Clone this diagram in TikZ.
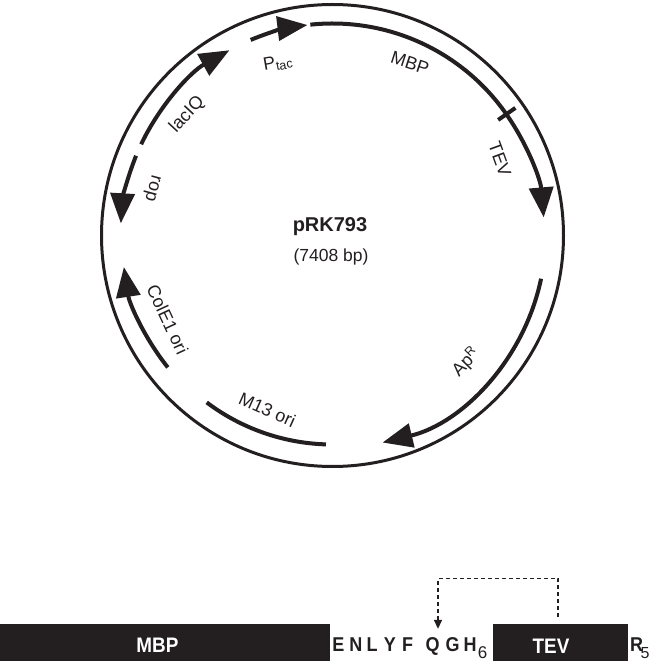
\documentclass[tikz,border=0pt]{standalone}
\usepackage{fontspec}
\setmainfont{Liberation Sans}
\newfontfamily\condfont[FakeStretch=0.9]{Liberation Sans}
\usetikzlibrary{arrows.meta}

\definecolor{ink}{HTML}{231F20}

\tikzset{
	backbone/.style={ink,line width=3pt},
	gene/.style={ink,line width=4pt},
	genetip/.style={gene,-{Triangle[length=30pt,width=24pt]}},
	maplabel/.style={ink,inner sep=0pt,font=\fontsize{18}{20}\selectfont},
	bar/.style={fill=ink,draw=none,minimum height=36.5pt,inner sep=0pt},
	bartext/.style={white,anchor=base,inner sep=0pt,font=\condfont\bfseries\fontsize{21}{24}\selectfont},
	aa/.style={ink,anchor=base,inner sep=0pt,font=\condfont\bfseries\fontsize{20}{24}\selectfont},
	cleave/.style={ink,line width=1.5pt,dash pattern=on 4pt off 3pt,-{Triangle[length=9pt,width=8pt]}}
}

\begin{document}
\begin{tikzpicture}[x=1pt,y=1pt]
	\useasboundingbox (-332.5,-425.5) rectangle (317.5,235.5);

	% plasmid
	\draw[backbone] (0,0) circle[radius=231];

	\begin{scope}
		\draw[genetip] (112.7:212) arc[start angle=112.7,end angle=96.8,radius=212];
		\draw[genetip] (96:212) arc[start angle=96,end angle=4.9,radius=212];
		\draw[gene] (34.9:202) -- (34.9:223);
		\draw[genetip] (154.5:212) arc[start angle=154.5,end angle=119.1,radius=212];
		\draw[genetip] (157.9:212) arc[start angle=157.9,end angle=176.7,radius=212];
		\draw[genetip] (218.7:211) arc[start angle=218.7,end angle=188.6,radius=211];
		\draw[gene] (233:209) arc[start angle=233,end angle=268.2,radius=209];
		\draw[genetip] (-11.7:213) arc[start angle=-11.7,end angle=-76.4,radius=213];
	\end{scope}

	\begin{scope}[every node/.style={maplabel}]
		\node[rotate=10] (ptac) at (107.5:181) {P\textsubscript{tac}};
		\node[rotate=-18] (mbplbl) at (65.8:189) {MBP};
		\node[rotate=-70] (tevlbl) at (24.5:184) {TEV};
		\node[rotate=47] (laciq) at (140.3:189) {lacIQ};
		\node[rotate=-105] (rop) at (165.3:187) {rop};
		\node[rotate=-65] (cole1) at (207:185) {ColE1 ori};
		\node[rotate=-24] (m13) at (249.5:186) {M13 ori};
		\node[rotate=46] (apr) at (316.5:184) {Ap\textsuperscript{R}};
	\end{scope}

	\node[ink,font=\bfseries\fontsize{20}{23}\selectfont] (name) at (-2.5,8.5) {pRK793};
	\node[ink,font=\fontsize{17.5}{20}\selectfont] (size) at (-1.5,-21.5) {(7408 bp)};

	% fusion
	\node[bar,minimum width=330pt] (mbpbar) at (-167.5,-407.2) {};
	\node[bar,minimum width=135pt] (tevbox) at (228,-407.2) {};
	\node[bartext] (mbptext) at (-175,-416.5) {MBP};
	\node[bartext] (tevtext) at (218.5,-417.5) {TEV};

	\foreach \x/\c in {5.8/E,23.3/N,39.5/L,57.5/Y,75/F,100/Q,120/G,137.5/H}
		\node[aa] (aa-\c) at (\x,-415.5) {\c};
	\node[ink,anchor=base,inner sep=0pt,font=\fontsize{17}{20}\selectfont] (sub6) at (150,-422.5) {6};
	\node[aa] (arg) at (304,-416.2) {R};
	\node[ink,anchor=base,inner sep=0pt,font=\fontsize{16}{20}\selectfont] (sub5) at (312.5,-422.5) {5};

	\coordinate (qtip) at ([xshift=5.5pt,yshift=8pt]aa-Q.north);
	\draw[cleave] ([xshift=-2.5pt,yshift=7.5pt]tevbox.north) -- ++(0,38.5) -| (qtip);
\end{tikzpicture}
\end{document}
